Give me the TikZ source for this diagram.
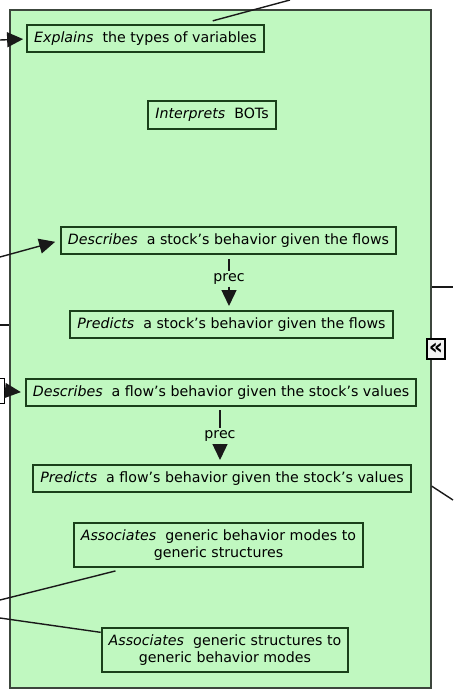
\documentclass[tikz,border=0pt]{standalone}
\usepackage{fontspec}
\setmainfont{DejaVu Sans}
\usetikzlibrary{arrows.meta, positioning, calc}

\definecolor{mapgreen}{HTML}{C0F8C0}
\definecolor{boxline}{HTML}{1A401A}
\definecolor{frameline}{HTML}{3C463C}

% italic verb followed by a wide gap
\newcommand{\act}[1]{\textit{#1}\ \ }

\begin{document}
\begin{tikzpicture}[x=1pt, y=-1pt,
    every node/.style={font=\fontsize{14.2}{17}\selectfont, text=black},
    concept/.style={draw=boxline, line width=2pt, fill=mapgreen, inner xsep=7pt, inner ysep=0pt, minimum height=27pt, align=center},
    twoline/.style={concept, minimum height=44pt},
    linktext/.style={inner sep=2pt},
    link/.style={line width=1.4pt, black!90},
    arrow/.style={link, -{Triangle[length=16pt, width=15pt]}}
]

\useasboundingbox (0,0) rectangle (453,698);
\fill[white] (0,0) rectangle (453,698);

% Container
\node[draw=frameline, line width=1.6pt, fill=mapgreen, minimum width=421pt, minimum height=678pt, inner sep=0pt] (frame) at (220.5,349) {};

% Concepts
\node[concept] (explains) at (145.5,39) {\act{Explains}the types of variables};
\node[concept] (interprets) at (212,115) {\act{Interprets}BOTs};
\node[concept] (descstock) at (228.5,240.5) {\act{Describes}a stock's behavior given the flows};
\node[concept] (predstock) at (231.5,324.5) {\act{Predicts}a stock's behavior given the flows};
\node[concept] (descflow) at (221,392.5) {\act{Describes}a flow's behavior given the stock's values};
\node[concept] (predflow) at (222,478.5) {\act{Predicts}a flow's behavior given the stock's values};
\node[twoline] (assocbeh) at (218.5,545) {\act{Associates}generic behavior modes to\\ generic structures};
\node[twoline] (assocstr) at (225,650) {\act{Associates}generic structures to\\ generic behavior modes};

% Links inside
\node[linktext] (precstock) at (229,279) {prec};
\draw[link, shorten <=4pt] (descstock.south -| precstock) -- (precstock.north);
\draw[arrow, shorten >=4pt] (precstock.south) -- (predstock.north -| precstock);

\node[linktext] (precflow) at (220,436) {prec};
\draw[link, shorten <=3pt] (descflow.south -| precflow) -- (precflow.north);
\draw[arrow, shorten >=4pt] (precflow.south) -- (predflow.north -| precflow);

% Links leaving the container
\coordinate (offtop) at (290,0);
\draw[link, shorten <=14pt] (explains) -- (offtop);

\coordinate (inexpl) at (0,40);
\draw[arrow, shorten >=3pt] (inexpl) -- (explains.west);

\coordinate (instock) at (0,257);
\draw[arrow, shorten >=5pt] (instock) -- (descstock.west);

\coordinate (offleft) at (0,325);
\draw[link] (offleft) -- (offleft -| frame.west);

\node[draw=black, line width=1pt, fill=white, minimum width=24pt, minimum height=25pt, inner sep=0pt] (leftstub) at (-8,390.5) {};
\draw[arrow, shorten >=4pt] (leftstub.east) -- (descflow.west);

\coordinate (offbeh) at (0,600);
\draw[link, shorten >=12pt] (offbeh) -- (assocbeh);

\coordinate (offstr) at (0,618);
\draw[link] (offstr) -- (assocstr);

\coordinate (offrightA) at (453,287);
\draw[link] (frame.east |- offrightA) -- (offrightA);

\coordinate (offrightB) at (453,500);
\draw[link] ($(frame.north east)+(0,477)$) -- (offrightB);

% Collapse button
\node[draw=black, line width=1.4pt, fill=gray!10, minimum width=18pt, minimum height=20pt, inner sep=0pt, font=\fontsize{22}{22}\selectfont\bfseries] (collapse) at (436,349) {«};

\end{tikzpicture}
\end{document}
